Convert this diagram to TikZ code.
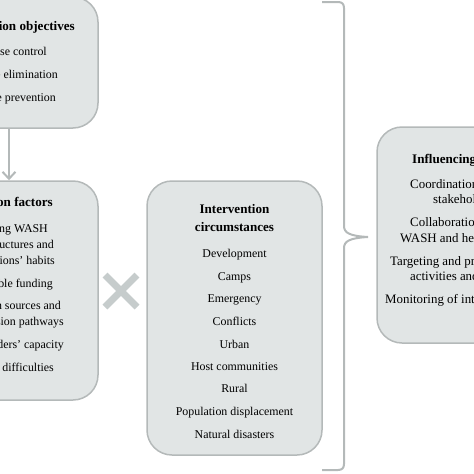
\documentclass[tikz,border=0pt]{standalone}
\usepackage{fontspec}
\setmainfont{Liberation Serif}
\usetikzlibrary{arrows.meta}

\definecolor{panelfill}{HTML}{E1E5E5}
\definecolor{paneldraw}{HTML}{B4B9B9}
\definecolor{markgray}{HTML}{C6CCCC}

\tikzset{
  panel/.style={draw=paneldraw, fill=panelfill, line width=1.5pt, rounded corners=25pt, inner sep=0pt},
  txt/.style={inner sep=0pt, text height=8pt, text depth=2.5pt, font=\fontsize{11.9}{14}\selectfont},
  bigtxt/.style={inner sep=0pt, text height=8.6pt, text depth=2.7pt, font=\fontsize{12.9}{15}\selectfont},
  ttl/.style={inner sep=0pt, text height=8.8pt, text depth=2.7pt, font=\fontsize{13.1}{15}\selectfont\bfseries},
  flow/.style={draw=paneldraw, line width=2pt, -{Straight Barb[length=7pt,width=13pt]}},
  brace/.style={draw=paneldraw, line width=2pt},
  cross/.style={draw=markgray, line width=7pt}
}

\begin{document}
\begin{tikzpicture}[x=1pt,y=1pt,yscale=-1]
\useasboundingbox (0,0) rectangle (474,474);
\clip (0,0) rectangle (474,474);

%Shape: Boxes
\node [panel, minimum width=178pt, minimum height=131pt] (objectives) at (9,62.5) {};
\node [panel, minimum width=178pt, minimum height=219pt] (factors) at (9,290.5) {};
\node [panel, minimum width=175pt, minimum height=274pt] (circumstances) at (234.5,318) {};
\node [panel, minimum width=175pt, minimum height=216pt] (influencing) at (464.5,235) {};

%Shape: Arrow
\draw [flow] (objectives.south) -- (factors.north);

%Shape: Cross
\draw [cross] (105,275) -- (137,307);
\draw [cross] (137,275) -- (105,307);

%Shape: Brace
\draw [brace] (322,2) -- (338,2) .. controls (342,2) and (344,4) .. (344,8) -- (344,226) .. controls (344,233) and (350,236) .. (368,237) .. controls (350,238) and (344,241) .. (344,248) -- (344,464) .. controls (344,468) and (342,470) .. (338,470) -- (322,470);

% Text Node
\node [ttl, anchor=east] (o0) at (75,27) {Intervention objectives};
\node [txt, anchor=east] (o1) at (47,53) {Disease control};
\node [txt, anchor=east] (o2) at (58,76) {Disease elimination};
\node [txt, anchor=east] (o3) at (56,99) {Disease prevention};

% Text Node
\node [ttl, anchor=east] (f0) at (53,203) {Decision factors};
\node [txt, anchor=east] (f1) at (48,230) {Existing WASH};
\node [txt, anchor=east] (f2) at (54,246) {infrastructures and};
\node [txt, anchor=east] (f3) at (55,262) {populations' habits};
\node [txt, anchor=east] (f4) at (53,285) {Available funding};
\node [txt, anchor=east] (f5) at (61,307) {Pathogen sources and};
\node [txt, anchor=east] (f6) at (64,323) {transmission pathways};
\node [txt, anchor=east] (f7) at (64,346) {Stakeholders' capacity};
\node [txt, anchor=east] (f8) at (54,369) {Access difficulties};

% Text Node
\node [ttl] (c0) at (234.5,210) {Intervention};
\node [ttl] (c1) at (234.5,228) {circumstances};
\node [txt] (c2) at (234.5,255) {Development};
\node [txt] (c3) at (234.5,278) {Camps};
\node [txt] (c4) at (234.5,300) {Emergency};
\node [txt] (c5) at (234.5,323) {Conflicts};
\node [txt] (c6) at (234.5,346) {Urban};
\node [txt] (c7) at (234.5,368) {Host communities};
\node [txt] (c8) at (234.5,390) {Rural};
\node [txt] (c9) at (234.5,413) {Population displacement};
\node [txt] (c10) at (234.5,436) {Natural disasters};

% Text Node
\node [ttl, anchor=west] (i0) at (412,160) {Influencing factors};
\node [bigtxt, anchor=west] (i1) at (410,186) {Coordination between};
\node [bigtxt, anchor=west] (i2) at (433,201) {stakeholders};
\node [bigtxt, anchor=west] (i3) at (410,224) {Collaboration between};
\node [bigtxt, anchor=west] (i4) at (400,240) {WASH and health sectors};
\node [bigtxt, anchor=west] (i5) at (390,263) {Targeting and prioritization of};
\node [bigtxt, anchor=west] (i6) at (410,278) {activities and locations};
\node [bigtxt, anchor=west] (i7) at (385,301) {Monitoring of interventions};

\end{tikzpicture}
\end{document}
